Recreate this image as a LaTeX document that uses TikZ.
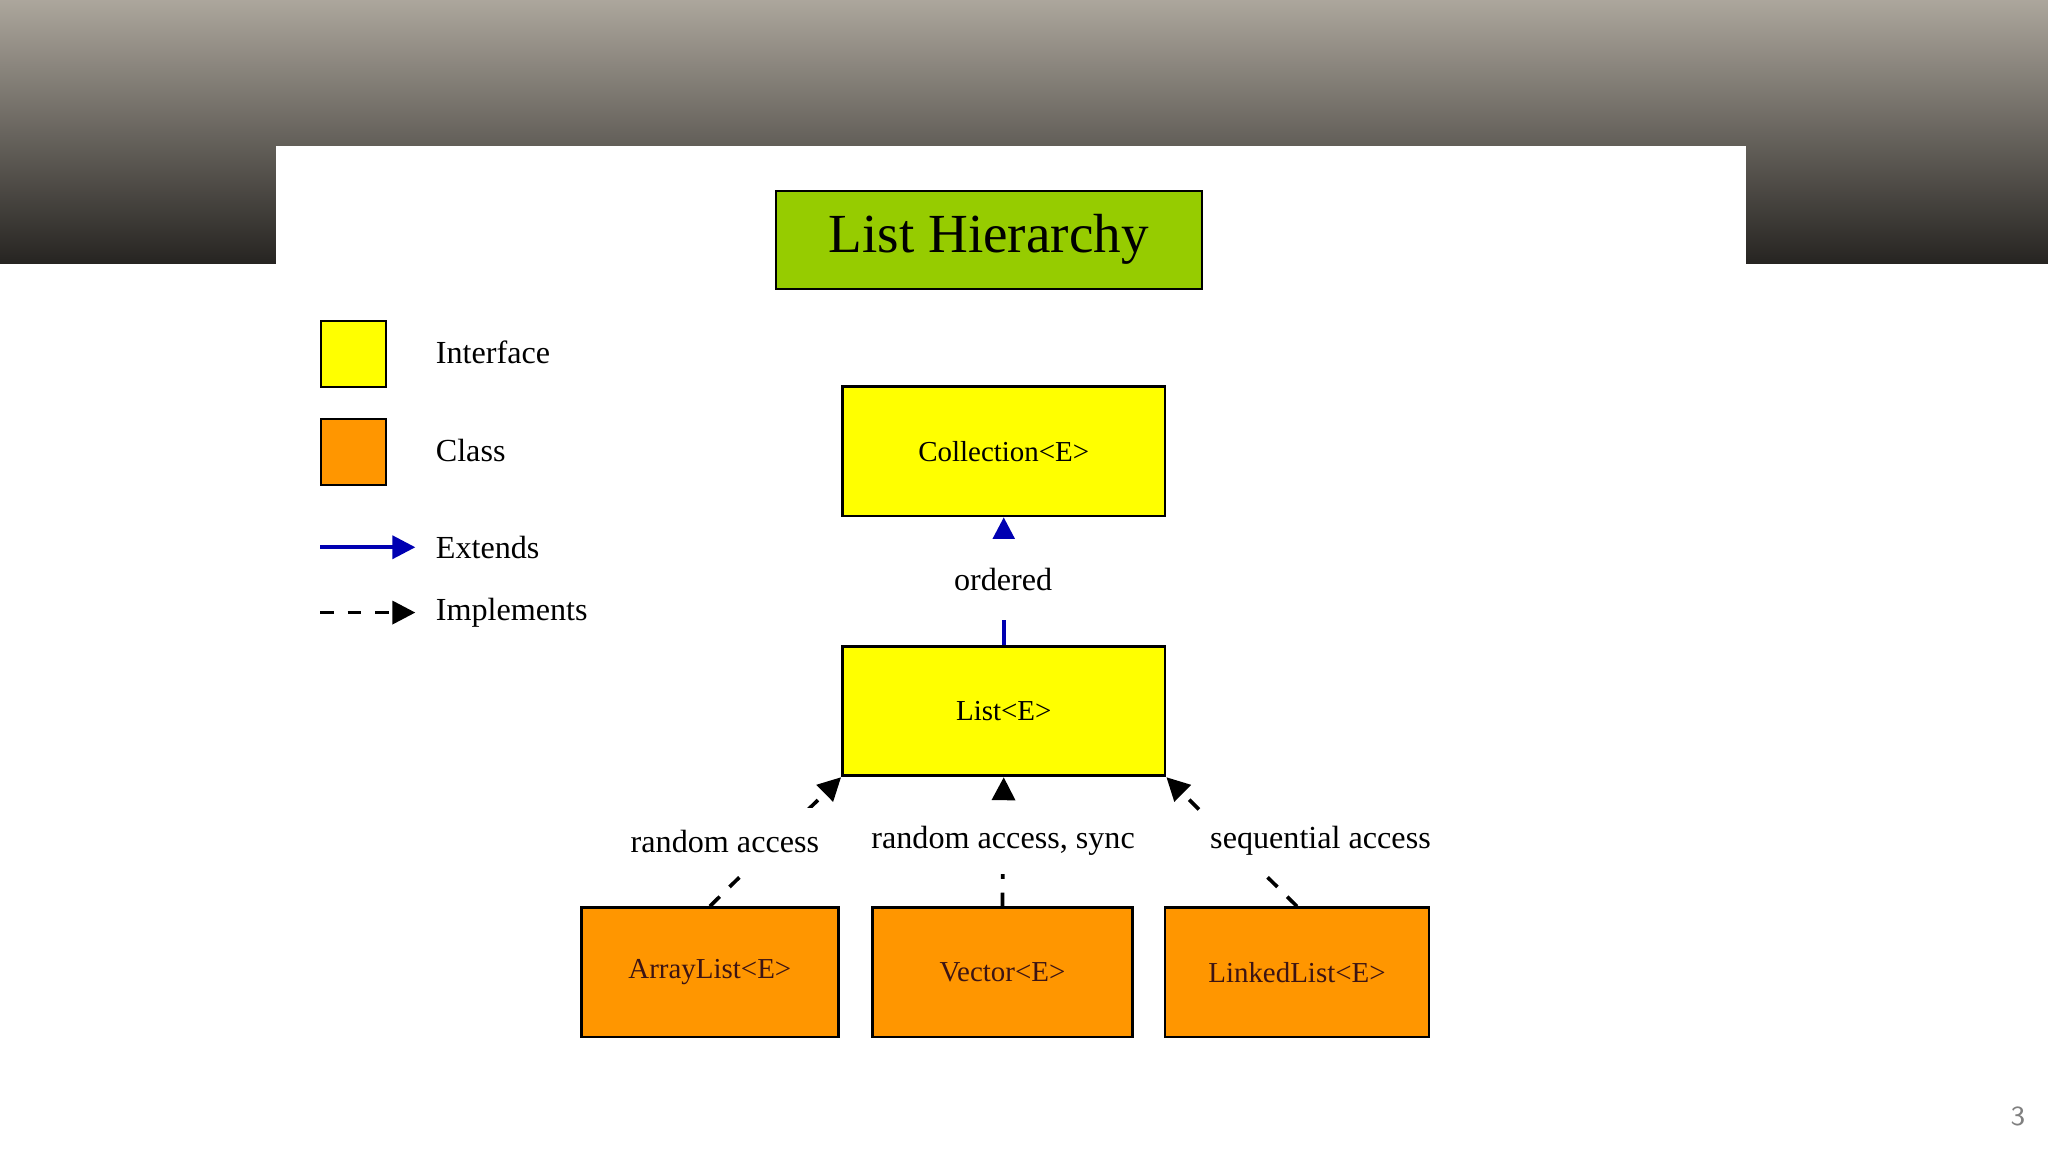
\documentclass[tikz,border=0pt]{standalone}
\usepackage{fontspec}
\setmainfont{Liberation Serif}
\usetikzlibrary{arrows.meta}
\definecolor{ifc}{RGB}{255,255,0}
\definecolor{clc}{RGB}{255,150,0}
\definecolor{ttl}{RGB}{150,204,0}
\definecolor{txtc}{RGB}{60,20,20}
\begin{document}
\begin{tikzpicture}[x=0.01cm,y=-0.01cm,
  box/.style={draw=black,line width=0.6pt,minimum width=#1*0.01cm,minimum height=0.99cm,inner sep=0pt,font=\fontsize{6.3}{8}\selectfont},
  lbl/.style={fill=white,inner sep=1pt,font=\fontsize{7}{9}\selectfont},
  leg/.style={anchor=west,inner sep=0pt,font=\fontsize{7}{9}\selectfont},
  tip/.style={-{Triangle[length=5pt,width=5pt]}}]
\useasboundingbox (0,0) rectangle (1568,882);
\fill[white] (0,0) rectangle (1568,882);
\shade[top color={rgb,255:red,172;green,166;blue,156},bottom color={rgb,255:red,38;green,36;blue,33}] (0,0) rectangle (1568,202);
\fill[white] (211,112) rectangle (1337,882);
\node[draw=black,fill=ttl,minimum width=3.26cm,minimum height=0.75cm,font=\fontsize{12}{14}\selectfont] (title) at (757,183.5) {List Hierarchy};
% legend
\node[draw=black,fill=ifc,minimum size=0.5cm,inner sep=0pt] (lif) at (270.5,271) {};
\node[draw=black,fill=clc,minimum size=0.5cm,inner sep=0pt] (lcl) at (270.5,346) {};
\node[leg] (tif) at (333,270) {Interface};
\node[leg] (tcl) at (333,345) {Class};
\node[leg] (tex) at (333,419) {Extends};
\node[leg] (tim) at (333,469) {Implements};
\coordinate (e0) at (245,419); \coordinate (e1) at (318,419);
\coordinate (i0) at (245,469); \coordinate (i1) at (318,469);
\draw[tip,blue!70!black,line width=0.8pt] (e0) -- (e1);
\draw[tip,dashed,line width=0.8pt] (i0) -- (i1);
% nodes
\node[box=247,fill=ifc] (col) at (768.5,345.5) {Collection<E>};
\node[box=247,fill=ifc] (lst) at (768.5,544.5) {List<E>};
\node[box=197,fill=clc,text=txtc] (arr) at (543.5,744.5) {ArrayList<E>};
\node[box=199,fill=clc,text=txtc] (vec) at (767.5,744.5) {Vector<E>};
\node[box=202,fill=clc,text=txtc] (lnk) at (993,744.5) {LinkedList<E>};
% edges
\draw[tip,blue!70!black,line width=0.8pt] (lst.north) -- (col.south);
\draw[tip,dashed,line width=0.8pt] (arr.north) -- (lst.south west);
\draw[tip,dashed,line width=0.8pt] (vec.north) -- (lst.south);
\draw[tip,dashed,line width=0.8pt] (lnk.north) -- (lst.south east);
\node[lbl,minimum height=0.62cm] (l1) at (768,444) {ordered};
\node[lbl,minimum height=0.5cm] (l2) at (555,644) {random access};
\node[lbl,minimum height=0.5cm] (l3) at (768,644) {random access, sync};
\node[lbl,minimum height=0.5cm] (l4) at (1011,644) {sequential access};
\node[text=gray,font=\sffamily\fontsize{6}{7}\selectfont] (pg) at (1545,855) {3};
\end{tikzpicture}
\end{document}
